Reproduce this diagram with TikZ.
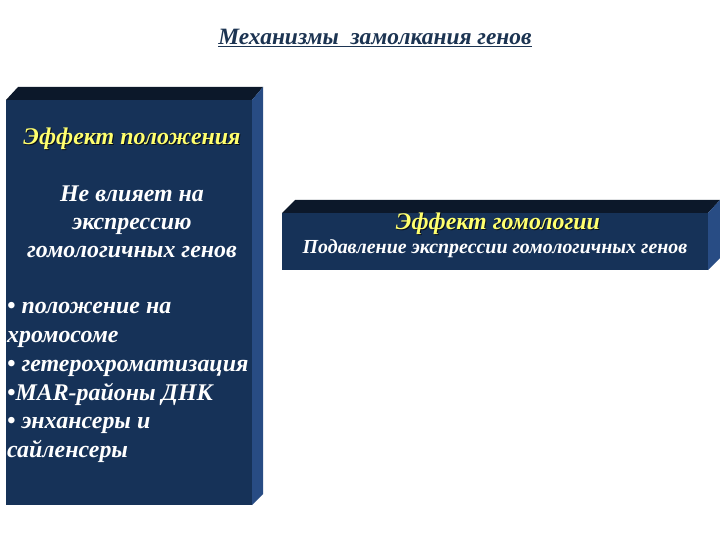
\documentclass[tikz,border=0pt]{standalone}
\usepackage{fontspec}
\setmainfont{Liberation Serif}
\definecolor{frontc}{RGB}{22,50,88}
\definecolor{topc}{RGB}{12,24,42}
\definecolor{sidec}{RGB}{40,76,132}
\definecolor{titlec}{RGB}{28,52,82}
\definecolor{yel}{RGB}{255,255,110}
\definecolor{shadowc}{RGB}{8,14,24}
\begin{document}
\begin{tikzpicture}[x=1bp,y=1bp,
  front/.style={fill=frontc,draw=none},
  topf/.style={fill=topc,draw=none},
  sidef/.style={fill=sidec,draw=none},
  big/.style={font=\fontsize{24}{26}\selectfont\bfseries\itshape,inner sep=0,anchor=base},
  head/.style={big,text=yel},
  headshadow/.style={big,text=shadowc},
  body/.style={big,text=white},
  bul/.style={body,anchor=base west}]
\useasboundingbox (0,0) rectangle (720,-540);
\fill[white] (0,0) rectangle (720,-540);
% title
\node[big,text=titlec,font=\fontsize{23.5}{26}\selectfont\bfseries\itshape] (title) at (375,-45) {\underline{Механизмы\ \ замолкания генов}};
% left box
\path[topf] (6,-100) -- (18,-87) -- (263,-87) -- (252,-100) -- cycle;
\path[sidef] (252,-100) -- (263,-87) -- (263,-494) -- (252,-505) -- cycle;
\path[front] (6,-100) rectangle (252,-505);
\node[headshadow] (h1s) at (133,-146) {Эффект положения};
\node[head] (h1) at (132,-145) {Эффект положения};
\node[body] (l1) at (132,-202) {Не влияет на};
\node[body] (l2) at (132,-230) {экспрессию};
\node[body] (l3) at (132,-258) {гомологичных генов};
\node[bul] (b1) at (7,-313) {• положение на};
\node[bul] (b2) at (7,-342) {хромосоме};
\node[bul] (b3) at (7,-371) {• гетерохроматизация};
\node[bul] (b4) at (7,-400) {•MAR-районы ДНК};
\node[bul] (b5) at (7,-428) {• энхансеры и};
\node[bul] (b6) at (7,-457) {сайленсеры};
% right box
\path[topf] (282,-213) -- (295,-200) -- (720,-200) -- (708,-213) -- cycle;
\path[sidef] (708,-213) -- (720,-200) -- (720,-258) -- (708,-270) -- cycle;
\path[front] (282,-213) rectangle (708,-270);
\node[headshadow] (h2s) at (499,-231) {Эффект гомологии};
\node[head] (h2) at (498,-230) {Эффект гомологии};
\node[big,text=white,font=\fontsize{20}{22}\selectfont\bfseries\itshape] (r1) at (495,-254) {Подавление экспрессии гомологичных генов};
\end{tikzpicture}
\end{document}
